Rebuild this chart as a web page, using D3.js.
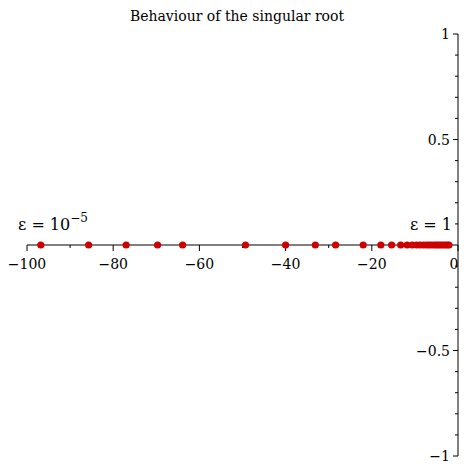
<!DOCTYPE html>
<html><head><meta charset="utf-8">
<script src="https://cdn.jsdelivr.net/npm/d3@7"></script>
<style>body{margin:0;background:#fff}</style></head>
<body><svg id="viz"></svg>
<script>
const roots = [-96.8, -85.7, -77, -69.7, -63.9, -49.3, -40, -33.1, -28.4, -22, -17.9, -15.4,
  -13.3, -11.8, -10.6, -9.6, -8.8, -8, -7.3, -6.7, -6.1, -5.5, -5, -4.5, -4, -3.5, -3, -2.5, -2.1];
const xTicks = [-100, -80, -60, -40, -20, 0];
const yTicks = [-1, -0.5, 0.5, 1];

const width = 474, height = 474;
const font = "DejaVu Serif";
const svg = d3.select('#viz').attr('width', width).attr('height', height)
  .attr('font-family', font);

const x = d3.scaleLinear().domain([-100, 0]).range([27, 458]);
const y = d3.scaleLinear().domain([-1, 1]).range([456, 34]);

svg.append("text").attr("x", 237).attr("y", 21).attr("text-anchor", "middle")
  .attr("font-size", 14).text("Behaviour of the singular root");

// x axis
const gx = svg.append("g").attr("transform", `translate(0,${y(0)})`);
gx.append("line").attr("x1", x(-100)).attr("x2", x(0)).attr("stroke", "#000");
gx.selectAll(".maj").data(xTicks).enter().append("line")
  .attr("x1", d => x(d)).attr("x2", d => x(d)).attr("y1", 0).attr("y2", 6).attr("stroke", "#000");
gx.selectAll(".min").data(d3.range(-90, 0, 20)).enter().append("line")
  .attr("x1", d => x(d)).attr("x2", d => x(d)).attr("y1", 0).attr("y2", 3).attr("stroke", "#000");
gx.selectAll("text").data(xTicks).enter().append("text")
  .attr("x", d => x(d) - (d === 0 ? 4 : 0)).attr("y", 24).attr("text-anchor", "middle")
  .attr("font-size", 14).text(d => d === 0 ? "0" : "\u2212" + Math.abs(d));

// y axis
const gy = svg.append("g").attr("transform", `translate(${x(0)},0)`);
gy.append("line").attr("y1", y(-1)).attr("y2", y(1)).attr("stroke", "#000");
gy.selectAll("line.t").data(yTicks).enter().append("line")
  .attr("y1", d => y(d)).attr("y2", d => y(d)).attr("x1", -5).attr("x2", 0).attr("stroke", "#000");
gy.selectAll("line.m").data(d3.range(-0.9, 1, 0.1).filter(v => Math.abs(v*2 - Math.round(v*2)) > 1e-6)).enter().append("line")
  .attr("y1", d => y(d)).attr("y2", d => y(d)).attr("x1", -3).attr("x2", 0).attr("stroke", "#000");
gy.selectAll("text").data(yTicks).enter().append("text")
  .attr("x", -8).attr("y", d => y(d) + 5).attr("text-anchor", "end")
  .attr("font-size", 14).text(d => (d < 0 ? "\u2212" : "") + Math.abs(d));

// points
svg.append("g").selectAll("circle").data(roots).enter().append("circle")
  .attr("cx", d => x(d)).attr("cy", y(0)).attr("r", 3.6).attr("fill", "#cc0000");

// labels
const l1 = svg.append("text").attr("x", 18).attr("y", 230).attr("font-size", 16);
l1.append("tspan").text("\u03b5 = 10");
l1.append("tspan").attr("dy", -8).attr("font-size", 12).text("\u22125");
svg.append("text").attr("x", 452).attr("y", 230).attr("text-anchor", "end")
  .attr("font-size", 16).text("\u03b5 = 1");
</script></body></html>
